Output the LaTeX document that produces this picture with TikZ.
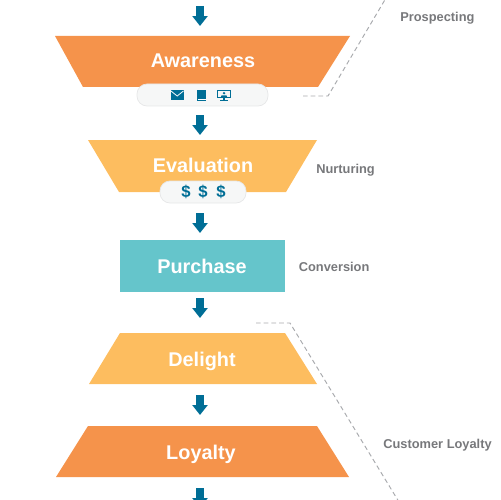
\documentclass[tikz,border=0pt]{standalone}
\usepackage{fontspec}
\setmainfont{Liberation Sans}
\usetikzlibrary{arrows.meta}
\definecolor{orangeC}{HTML}{F5934B}
\definecolor{yellowC}{HTML}{FDBD5F}
\definecolor{tealC}{HTML}{65C5CB}
\definecolor{blueC}{HTML}{006E96}
\definecolor{grayT}{HTML}{77787B}
\definecolor{dashC}{HTML}{A9ABAE}
\definecolor{pillC}{HTML}{F6F7F7}
\definecolor{pillE}{HTML}{E6E7E8}
\tikzset{
  stagetext/.style={text=white,font=\fontsize{11.3}{13}\selectfont\bfseries,inner sep=0pt},
  sidelabel/.style={text=grayT,font=\fontsize{7.3}{9}\selectfont\bfseries,inner sep=0pt,anchor=west},
  bigarrow/.style={blueC,line width=0.17cm,-{Triangle[width=0.3cm,length=0.2cm]}},
  guide/.style={dashC,line width=0.55pt,dash pattern=on 2.6pt off 1.8pt},
  pill/.style={fill=pillC,draw=pillE,line width=0.4pt,rounded corners=0.2cm},
  dollar/.style={text=blueC,font=\fontsize{9.5}{11}\selectfont\bfseries,inner sep=0pt},
}
\begin{document}
\begin{tikzpicture}[x=0.02cm,y=-0.02cm]
\useasboundingbox (0,0) rectangle (500,500);
\clip (0,0) rectangle (500,500);
% stages
\fill[orangeC] (55,36) -- (350,36) -- (318,87) -- (83,87) -- cycle;
\fill[yellowC] (88,140) -- (317,140) -- (286,192) -- (119,192) -- cycle;
\fill[tealC] (120,240) rectangle (285,292);
\fill[yellowC] (120,333) -- (285,333) -- (317,384) -- (89,384) -- cycle;
\fill[orangeC] (88,426) -- (317,426) -- (349,477) -- (56,477) -- cycle;
\node[stagetext] (aware) at (203,60.5) {Awareness};
\node[stagetext] (eval) at (203,165) {Evaluation};
\node[stagetext] (purch) at (202,266) {Purchase};
\node[stagetext] (delight) at (202,361) {Delight};
\node[stagetext] (loyal) at (201,454) {Loyalty};
% pills
\draw[pill] (137,84) rectangle (268,106);
\draw[pill] (160,181) rectangle (246,203);
% envelope icon
\fill[blueC] (171,90) -- (183.5,90) -- (183.5,100.5) -- (171,100.5) -- cycle;
\draw[white,line width=0.45pt] (171,91) -- (177.2,96) -- (183.5,91);
% book icon
\fill[blueC] (197,90) -- (206,90) -- (206,101) -- (197,101) -- cycle;
\draw[white,line width=0.3pt] (197.5,99.3) -- (206,99.3);
% monitor icon
\fill[blueC] (217,90) -- (231,90) -- (231,98.5) -- (217,98.5) -- cycle;
\fill[pillC] (218.3,91.2) rectangle (229.7,97.3);
\fill[blueC] (224,93.2) circle (1.3);
\fill[blueC] (220.8,97.3) -- (221.5,95.3) -- (226.5,95.3) -- (227.2,97.3) -- cycle;
\fill[blueC] (223,98.5) rectangle (225,100.3);
\fill[blueC] (220,100.3) rectangle (228,101.3);
% dollars
\node[dollar] (d1) at (186,192) {\$};
\node[dollar] (d2) at (203,192) {\$};
\node[dollar] (d3) at (221,192) {\$};
% arrows
\coordinate (a1s) at (200,6);   \coordinate (a1e) at (200,26);
\coordinate (a2s) at (200,115); \coordinate (a2e) at (200,135);
\coordinate (a3s) at (200,213); \coordinate (a3e) at (200,233);
\coordinate (a4s) at (200,298); \coordinate (a4e) at (200,318);
\coordinate (a5s) at (200,395); \coordinate (a5e) at (200,415);
\coordinate (a6s) at (200,488); \coordinate (a6e) at (200,508);
\foreach \i in {1,...,6} \draw[bigarrow] (a\i s) -- (a\i e);
% guides
\coordinate (g1a) at (303,96); \coordinate (g1b) at (328,96); \coordinate (g1c) at (386,-2);
\coordinate (g2a) at (256,323); \coordinate (g2b) at (290,323); \coordinate (g2c) at (399,502);
\draw[guide] (g1a) -- (g1b) -- (g1c);
\draw[guide] (g2a) -- (g2b) -- (g2c);
% labels
\node[sidelabel] (l1) at (400,18.5) {Prospecting};
\node[sidelabel] (l2) at (316,170.5) {Nurturing};
\node[sidelabel] (l3) at (298.5,267) {Conversion};
\node[sidelabel] (l4) at (383,445.5) {Customer Loyalty};
\end{tikzpicture}
\end{document}
